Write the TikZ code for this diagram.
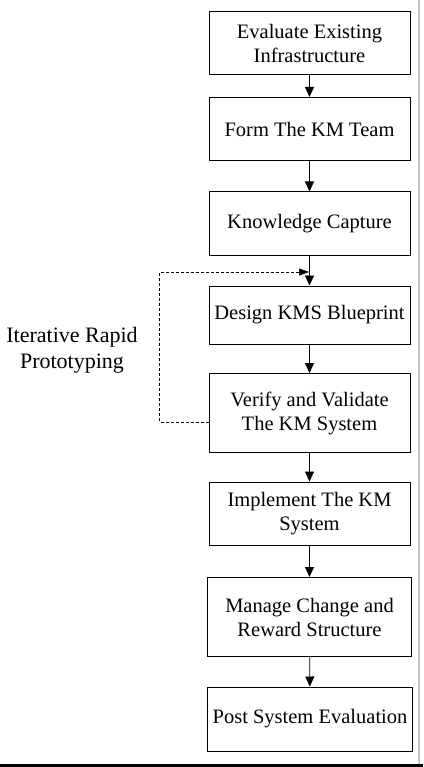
\documentclass[tikz,border=0pt]{standalone}
\usepackage{fontspec}
\setmainfont{Liberation Serif}
\usetikzlibrary{arrows.meta}
\tikzset{
  stage/.style={draw, line width=1pt, minimum width=201pt, align=center,
    inner sep=0pt, font=\fontsize{20.5}{24}\selectfont},
  flow/.style={-{Triangle[length=10pt,width=9pt]}, line width=0.9pt},
  loopline/.style={-{Triangle[length=10pt,width=7pt]}, line width=0.6pt,
    dash pattern=on 3pt off 2pt}
}

\begin{document}
\begin{tikzpicture}[x=1pt,y=-1pt]
  \useasboundingbox (0,0) rectangle (423,767);
  \node[stage, minimum height=63pt] (S1) at (309.5,43.5) {Evaluate Existing\\Infrastructure};
  \node[stage, minimum height=63pt] (S2) at (309.5,129) {Form The KM Team};
  \node[stage, minimum height=63pt] (S3) at (309.5,223.5) {Knowledge Capture};
  \node[stage, minimum height=58pt] (S4) at (309.5,315) {Design KMS Blueprint};
  \node[stage, minimum height=79pt] (S5) at (309.5,413) {Verify and Validate\\The KM System};
  \node[stage, minimum height=63pt] (S6) at (309.5,513.5) {Implement The KM\\System};
  \node[stage, minimum height=79pt, minimum width=204pt] (S7) at (309.5,617) {Manage Change and\\Reward Structure};
  \node[stage, minimum height=64pt, minimum width=205pt] (S8) at (310,719) {Post System Evaluation};
  \foreach \a/\b in {S1/S2,S2/S3,S3/S4,S4/S5,S5/S6,S6/S7,S7/S8}
    \draw[flow] (\a) -- (\b);
  \coordinate (T) at (309,272);
  \draw[loopline] ([yshift=-9pt]S5.west) -- ++(-49,0) |- (T);
  \node[align=center, font=\fontsize{22}{26}\selectfont] (L) at (72,350) {Iterative Rapid\\Prototyping};
  \fill[gray!45] (417.5,0) rectangle (420,764);
  \fill[black] (0,763.5) rectangle (423,767);
\end{tikzpicture}
\end{document}
